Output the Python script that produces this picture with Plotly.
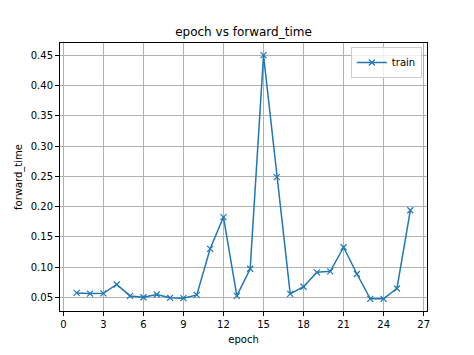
import plotly.graph_objects as go

epochs = list(range(1, 27))
forward_time = [0.0576, 0.0565, 0.057, 0.0716, 0.0527, 0.0505, 0.055, 0.0495, 0.049, 0.0543,
                0.1304, 0.1828, 0.0527, 0.0975, 0.450, 0.2487, 0.056, 0.0678, 0.0916, 0.0932,
                0.133, 0.0889, 0.0479, 0.0479, 0.065, 0.194]
x_ticks = [0, 3, 6, 9, 12, 15, 18, 21, 24, 27]
y_ticks = [0.05, 0.10, 0.15, 0.20, 0.25, 0.30, 0.35, 0.40, 0.45]

fig = go.Figure()
fig.add_trace(go.Scatter(
    x=epochs, y=forward_time, mode="lines+markers", name="train",
    line=dict(color="#1f77b4", width=1.5),
    marker=dict(symbol="x-thin-open", size=6, color="#1f77b4",
                line=dict(color="#1f77b4", width=1.2)),
))

ymin, ymax = min(forward_time), max(forward_time)
pad = (ymax - ymin) * 0.05
xpad = (max(epochs) - min(epochs)) * 0.05

axis_common = dict(
    showline=True, linecolor="black", linewidth=1, mirror=True,
    ticks="outside", ticklen=4, tickcolor="black", tickwidth=1,
    showgrid=True, gridcolor="#b0b0b0", gridwidth=0.8, zeroline=False,
    tickfont=dict(size=10, color="black"),
)

fig.update_layout(
    width=474, height=355,
    margin=dict(l=60, r=47, t=43, b=39),
    paper_bgcolor="white", plot_bgcolor="white",
    font=dict(family="DejaVu Sans", color="black"),
    title=dict(text="epoch vs forward_time", x=(60 + 427) / 2 / 474, xanchor="center",
               y=1 - 32 / 355, yanchor="middle", font=dict(size=12)),
    xaxis=dict(range=[min(epochs) - xpad, max(epochs) + xpad], tickvals=x_ticks,
               title=dict(text="epoch", font=dict(size=10), standoff=6), **axis_common),
    yaxis=dict(range=[ymin - pad, ymax + pad], tickvals=y_ticks, tickformat=".2f",
               title=dict(text="forward_time", font=dict(size=10), standoff=6), **axis_common),
    legend=dict(x=0.986, y=0.985, xanchor="right", yanchor="top",
                bgcolor="rgba(255,255,255,0.8)", bordercolor="#cccccc", borderwidth=1,
                font=dict(size=10), itemwidth=30),
    showlegend=True,
)

fig.write_html("out.html")
